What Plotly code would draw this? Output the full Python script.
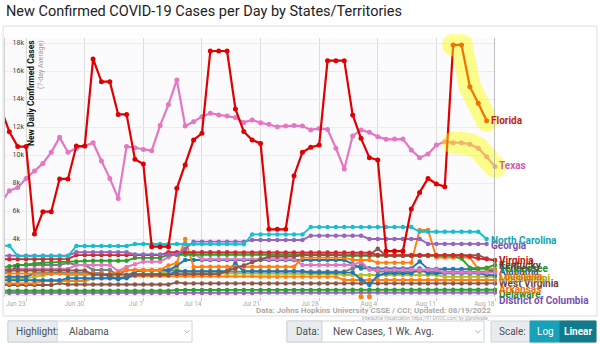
import plotly.graph_objects as go
import pandas as pd

# ---------------- data (values in cases/day, 7-day average) ----------------
dates = pd.date_range("2022-06-20", periods=60, freq="D")
tick_dates = pd.date_range("2022-06-23", "2022-08-18", freq="7D")

florida = [13300, 11660, 10600, 10600, 4360, 5950, 5950, 8290, 8290, 10640,
           10640, 16860, 15240, 15240, 12900, 12900, 9690, 9360, 3450, 3450,
           3450, 7620, 9290, 11070, 11550, 17430, 17430, 17430, 13290, 11670,
           11070, 10830, 4690, 4690, 4690, 8520, 10190, 10550, 10710, 16740,
           16740, 16740, 12860, 11190, 9810, 9640, 3140, 3140, 3140, 6140,
           7330, 8330, 7930, 7740, 17860, 17860, 14880, 13690, 12450]
texas = [6570, 7450, 7670, 8330, 8860, 9400, 10190, 11260, 10190, 10480,
         10640, 10880, 9570, 8330, 6900, 10600, 10520, 10400, 10310, 12100,
         13600, 15360, 12070, 12380, 12740, 12980, 12860, 12790, 12670, 12330,
         12500, 12310, 12190, 12020, 12070, 12100, 12070, 11790, 11900, 11830,
         10480, 9000, 11360, 11790, 11620, 11310, 11120, 11140, 11140, 10360,
         9810, 10070, 10710, 10950, 10880, 10880, 10760, 10480, 9880, 9170]
north_carolina = [3520, 3520, 2780, 2780, 2780, 2780, 2780, 2780, 2780, 3500,
                  3500, 3500, 3500, 3500, 3500, 3500, 3640, 3640, 3640, 3640,
                  3640, 3640, 3640, 3640, 3640, 3640, 3640, 3640, 3640, 3620,
                  4330, 4330, 4330, 4330, 4330, 4330, 4330, 4850, 4850, 4850,
                  4850, 4850, 4850, 4850, 4850, 4850, 4850, 4850, 4850, 4850,
                  4520, 4520, 4520, 4520, 4520, 4520, 4520, 4520, 4000]
georgia = [2810, 2810, 2810, 2810, 2810, 2810, 2810, 2810, 2810, 3050,
           3050, 3050, 3050, 3050, 3050, 3050, 2900, 2900, 2900, 2900,
           2900, 2900, 3300, 3810, 3810, 3810, 3810, 3810, 3810, 3810,
           3930, 3930, 3930, 3930, 3930, 3930, 3930, 4240, 4240, 4240,
           4240, 4240, 4240, 4240, 4000, 4000, 4000, 4000, 4000, 4000,
           4000, 3650, 3650, 3650, 3650, 3650, 3650, 3650, 3650]
virginia = [2550, 2550, 2550, 2560, 2560, 2560, 2580, 2580, 2580, 2850,
            2850, 2850, 2850, 2850, 2850, 2850, 2850, 2850, 2850, 2850,
            3050, 3050, 3050, 3050, 3050, 3050, 3050, 3050, 3040, 3040,
            3040, 3040, 3040, 3040, 3040, 3030, 3030, 3030, 3030, 3030,
            3030, 3030, 3020, 3020, 3020, 2850, 2850, 2850, 2850, 2850,
            2850, 2850, 2850, 2850, 2850, 2850, 2750, 2600, 2550, 2500]
kentucky = [1750, 1750, 1750, 1750, 1750, 1750, 1750, 1750, 1750, 1750,
            1750, 1450, 1450, 1450, 1450, 1450, 1450, 1450, 1450, 1450,
            1450, 1500, 1500, 1500, 1500, 1500, 1500, 1700, 1900, 2100,
            2350, 2550, 2750, 2750, 2750, 2750, 2850, 2850, 2850, 2850,
            2850, 2850, 2850, 2850, 2850, 3300, 2800, 2800, 2800, 2800,
            2800, 2800, 2800, 2800, 2800, 2800, 2800, 2850, 2600, 2450]
tennessee = [1980, 2050, 2120, 2200, 2250, 2300, 2330, 2360, 2380, 2400,
             2450, 2450, 2450, 2450, 2450, 2450, 2650, 2650, 2650, 2650,
             2880, 2880, 2880, 2880, 2880, 2880, 2880, 2880, 2880, 2880,
             2880, 2880, 2880, 2880, 2880, 2880, 2880, 2880, 2880, 2880,
             2880, 2800, 2800, 2800, 2800, 2800, 2800, 2800, 2800, 2800,
             2800, 2800, 2800, 2800, 2800, 2600, 1950, 1900, 1950, 2150]
alabama = [1300, 1300, 1300, 1300, 1550, 1550, 1550, 1550, 1550, 1550,
           1550, 1550, 1550, 1300, 1150, 1300, 1700, 1750, 1750, 1750,
           1750, 2100, 2500, 2500, 2500, 2500, 2500, 2500, 2500, 2500,
           2500, 2500, 2500, 2500, 2500, 2500, 2500, 2500, 2500, 2500,
           2500, 2500, 2200, 1900, 1900, 1900, 1900, 1900, 1900, 1900,
           2400, 1850, 1850, 1850, 1850, 1850, 1850, 1850, 1850, 1650]
oklahoma = [1050, 1050, 1050, 1050, 1050, 1050, 1050, 1050, 1200, 1200,
            1200, 1200, 1200, 1200, 1200, 1200, 1450, 1450, 1450, 1450,
            1450, 1700, 1700, 1700, 1700, 1700, 1700, 1700, 2250, 1700,
            1700, 1700, 1700, 1700, 1700, 1700, 1700, 1600, 1600, 1600,
            1600, 1600, 1600, 1100, 720, 1400, 1550, 1550, 1550, 1550,
            1900, 1550, 1550, 1550, 1550, 1550, 1550, 1550, 1450, 1400]
south_carolina = [1860, 1860, 1860, 1860, 1860, 1860, 1860, 1860, 1860, 2140,
                  2140, 2140, 2140, 2140, 1700, 2000, 2200, 2380, 2380, 2380,
                  2700, 2980, 2980, 2980, 2550, 2550, 2550, 2550, 2550, 2550,
                  2550, 2550, 2550, 2550, 2550, 2550, 2140, 2140, 2140, 2140,
                  2140, 2140, 2140, 2380, 1800, 1800, 1800, 1800, 1800, 1800,
                  1800, 1800, 1800, 1600, 1600, 1600, 1600, 1600, 1600, 1600]
louisiana = [1550, 1550, 1550, 1550, 1550, 1550, 1550, 1550, 1550, 1550,
             1550, 1550, 1550, 1500, 1600, 1790, 1790, 1790, 1790, 1790,
             2100, 2300, 4000, 2000, 2020, 2020, 2020, 2020, 2020, 2020,
             2020, 2020, 2020, 2020, 2020, 2020, 2670, 2670, 2670, 2670,
             2670, 2670, 2500, 2500, 2500, 2310, 2310, 2310, 2310, 2310,
             4640, 4640, 2670, 2670, 2670, 2670, 2670, 1860, 1860, 1860]
arkansas = [830, 830, 830, 830, 830, 1000, 1000, 1000, 1000, 1000,
            1000, 1190, 1190, 1190, 1190, 1350, 1350, 1350, 1350, 1350,
            1350, 1350, 1350, 1350, 1350, 1350, 1350, 1350, 1350, 1350,
            1350, 1310, 1310, 1310, 1310, 1310, 1310, 1310, 1310, 1310,
            1310, 1070, 1070, 1070, 1070, 1070, 1070, 1070, 1070, 1070,
            1070, 1070, 1070, 1070, 1070, 1070, 1070, 1070, 1070, 1070]
mississippi = [1190, 1190, 1190, 1190, 1300, 1400, 1500, 1620, 1400, 1450,
               1450, 1450, 1450, 1450, 1100, 1350, 1500, 1500, 1500, 1500,
               1700, 1900, 1550, 1550, 1550, 1550, 1550, 1550, 1550, 1550,
               1550, 1500, 1500, 1500, 1500, 1500, 1500, 1500, 1500, 1500,
               1500, 1430, 1430, 1430, 1430, 1430, 1430, 1430, 1430, 1430,
               1430, 1430, 1430, 1300, 1300, 1300, 1300, 1300, 1300, 1300]
maryland = [1600, 1600, 2140, 2140, 2140, 2140, 2140, 2140, 2300, 2140,
            2140, 1790, 1790, 1790, 1400, 1790, 1790, 1790, 1790, 1790,
            1790, 1670, 1670, 1670, 1670, 1670, 1670, 1670, 1670, 1670,
            1670, 1670, 1670, 1670, 1670, 1670, 1670, 1670, 1670, 1670,
            1670, 1670, 1900, 2140, 1900, 1670, 1670, 1670, 1670, 1670,
            1670, 1670, 1670, 1670, 1670, 1670, 1670, 1670, 1670, 1670]
west_virginia = [710, 710, 710, 710, 710, 710, 710, 850, 750, 750,
                 750, 750, 750, 750, 750, 750, 750, 750, 750, 750,
                 750, 900, 830, 830, 830, 830, 830, 830, 830, 830,
                 830, 830, 830, 830, 830, 830, 830, 830, 830, 830,
                 830, 830, 830, 830, 830, 830, 830, 830, 830, 830,
                 830, 830, 830, 830, 830, 830, 830, 830, 830, 830]
delaware = [300, 300, 300, 300, 300, 300, 300, 300, 300, 300,
            300, 300, 300, 300, 300, 300, 300, 300, 300, 300,
            300, 360, 360, 360, 360, 360, 360, 360, 360, 360,
            360, 360, 360, 360, 360, 360, 360, 360, 360, 360,
            360, 380, 380, 380, 380, 380, 380, 380, 380, 380,
            380, 380, 380, 380, 380, 380, 380, 380, 380, 380]
dc = [150, 150, 150, 150, 150, 150, 150, 150, 150, 150,
      150, 150, 150, 150, 150, 150, 150, 150, 150, 150,
      150, 150, 150, 150, 150, 150, 150, 150, 150, 150,
      150, 180, 180, 180, 180, 180, 180, 180, 180, 180,
      180, 180, 180, 180, 180, 180, 180, 180, 180, 180,
      180, 180, 180, 180, 180, 180, 180, 180, 180, 180]
# isolated negative reports shown just below the axis
neg_dates = ["2022-07-05", "2022-08-02", "2022-08-03"]
neg_values = [-160, -130, -130]

highlight_start = 54   # last week highlighted for Florida / Texas

# ---------------- styles ----------------
# (name, values, line colour, label colour, label y-shift px, show label)
series = [
    ("District of Columbia", dc, "#9467bd", "#7a4fb0", -8, True),
    ("Delaware", delaware, "#2ca02c", "#238a23", -5, True),
    ("West Virginia", west_virginia, "#8c564b", "#6e4037", 0, True),
    ("Arkansas", arkansas, "#ff7f0e", "#f06c00", -9, True),
    ("Mississippi", mississippi, "#bcbd22", "#a3a410", -2, True),
    ("Maryland", maryland, "#7f7f7f", "#666666", 0, False),
    ("Oklahoma", oklahoma, "#1f77b4", "#1a64a0", 0, False),
    ("Alabama", alabama, "#1f77b4", "#1a64a0", 0, True),
    ("South Carolina", south_carolina, "#e377c2", "#d060b0", 0, False),
    ("Louisiana", louisiana, "#ff7f0e", "#f06c00", -8, True),
    ("Tennessee", tennessee, "#2ca02c", "#238a23", -4, True),
    ("Kentucky", kentucky, "#8c564b", "#5e4036", -5, True),
    ("Virginia", virginia, "#d62728", "#b81414", 0, True),
    ("Georgia", georgia, "#9467bd", "#7a4fb0", -2, True),
    ("North Carolina", north_carolina, "#17becf", "#13a3b3", -1, True),
    ("Texas", texas, "#e377c2", "#d35aae", 1, True),
    ("Florida", florida, "#e00000", "#c8200c", 0, True),
]

FONT = "Roboto, 'Open Sans', sans-serif"
L, R, T, B = 5, 495, 38, 297
W, H = R - L, B - T


def px2x(px):
    return (px - L) / W


def py2y(py):
    return (B - py) / H


fig = go.Figure()

for name, vals, col, lcol, ysh, show in series:
    big = name in ("Texas", "Florida")
    fig.add_trace(go.Scatter(
        x=dates[:len(vals)], y=vals, mode="lines+markers", name=name,
        line=dict(color=col, width=2.2 if big else 1.9),
        marker=dict(color=col, size=5 if big else 4.5),
        cliponaxis=False, hoverinfo="skip", showlegend=False))

# negative reports
fig.add_trace(go.Scatter(x=neg_dates, y=neg_values, mode="markers",
                         marker=dict(color="#ff7f0e", size=5), cliponaxis=False,
                         hoverinfo="skip", showlegend=False))

# yellow highlights on the final week
for vals in (florida, texas):
    fig.add_trace(go.Scatter(
        x=dates[highlight_start:len(vals)], y=vals[highlight_start:],
        mode="lines+markers", line=dict(color="#ffff00", width=22),
        marker=dict(color="#ffff00", size=22), opacity=0.45,
        cliponaxis=False, hoverinfo="skip", showlegend=False))

annotations = []
for name, vals, col, lcol, ysh, show in series:
    if not show:
        continue
    annotations.append(dict(
        x=dates[len(vals) - 1], y=vals[-1], xref="x", yref="y",
        text="<b>%s</b>" % name, showarrow=False, xanchor="left", yanchor="middle",
        xshift=2, yshift=ysh, font=dict(family=FONT, size=10, color=lcol)))

# title
annotations.append(dict(x=px2x(4), y=py2y(12), xref="paper", yref="paper",
                        text="New Confirmed COVID-19 Cases per Day by States/Territories",
                        showarrow=False, xanchor="left", yanchor="middle",
                        font=dict(family=FONT, size=14.5, color="#222")))
# y axis title (inside plot)
annotations.append(dict(x=px2x(31), y=py2y(38), xref="paper", yref="paper",
                        text="<b>New Daily Confirmed Cases</b>", textangle=-90,
                        showarrow=False, xanchor="center", yanchor="top",
                        font=dict(family=FONT, size=8.5, color="#111")))
annotations.append(dict(x=px2x(40.5), y=py2y(38), xref="paper", yref="paper",
                        text="(7-day Average)", textangle=-90,
                        showarrow=False, xanchor="center", yanchor="top",
                        font=dict(family=FONT, size=7, color="#999")))
# credits
annotations.append(dict(x=px2x(493), y=py2y(310), xref="paper", yref="paper",
                        text="<b>Data: Johns Hopkins University CSSE / CCI; Updated: 08/19/2022</b>",
                        showarrow=False, xanchor="right", yanchor="middle",
                        font=dict(family=FONT, size=8, color="#aaa")))
annotations.append(dict(x=px2x(493), y=py2y(317.5), xref="paper", yref="paper",
                        text="Interactive Visualization: https://91-DIVOC.com/ by @profwade_",
                        showarrow=False, xanchor="right", yanchor="middle",
                        font=dict(family=FONT, size=4.5, color="#aaa")))

shapes = []
# outer frame
shapes.append(dict(type="rect", xref="paper", yref="paper",
                   x0=px2x(3), x1=px2x(597), y0=py2y(316), y1=py2y(26),
                   line=dict(color="#dedede", width=1), layer="below"))
# current-date line
shapes.append(dict(type="line", xref="x", yref="paper", x0=dates[-1], x1=dates[-1],
                   y0=0, y1=1, line=dict(color="#aaaaaa", width=1.5)))

# ---------------- controls row ----------------
cy0, cy1 = 321, 342


def box(x0, x1, fill, line="#ced4da"):
    shapes.append(dict(type="rect", xref="paper", yref="paper",
                       x0=px2x(x0), x1=px2x(x1), y0=py2y(cy1), y1=py2y(cy0),
                       fillcolor=fill, line=dict(color=line, width=1)))


def label(px, text, color="#495057", anchor="left", size=10, bold=False):
    annotations.append(dict(x=px2x(px), y=py2y((cy0 + cy1) / 2), xref="paper", yref="paper",
                            text=("<b>%s</b>" % text) if bold else text, showarrow=False,
                            xanchor=anchor, yanchor="middle",
                            font=dict(family=FONT, size=size, color=color)))


def chevron(px):
    cyc = (cy0 + cy1) / 2
    shapes.append(dict(type="path", xref="paper", yref="paper",
                       path="M %f %f L %f %f L %f %f" % (
                           px2x(px - 2.5), py2y(cyc - 1.2), px2x(px), py2y(cyc + 1.3),
                           px2x(px + 2.5), py2y(cyc - 1.2)),
                       line=dict(color="#999", width=0.8)))


box(8, 192, "#ffffff")
box(8, 57, "#e9ecef")
label(14, "Highlight:")
label(67, "Alabama")
chevron(187)

box(287, 484, "#ffffff")
box(287, 322, "#e9ecef")
label(294, "Data:")
label(331, "New Cases, 1 Wk. Avg.")
chevron(478)

box(491, 596, "#e9ecef")
box(530, 560, "#17a2b8", line="#17a2b8")
box(560, 596, "#117a8b", line="#117a8b")
label(497, "Scale:")
label(545, "Log", color="#ffffff", anchor="center")
label(578, "Linear", color="#ffffff", anchor="center", bold=True)

fig.update_layout(
    width=600, height=344,
    margin=dict(l=L, r=600 - R, t=T, b=344 - B, pad=0),
    paper_bgcolor="#ffffff", plot_bgcolor="#fbfbfe",
    showlegend=False,
    annotations=annotations, shapes=shapes,
    xaxis=dict(range=["2022-06-20 11:30", "2022-08-18 00:00"], tickvals=tick_dates,
               tickformat="%b %-d", ticklabelposition="outside left",
               ticks="outside", ticklen=3, tickcolor="#c8c8c8",
               tickfont=dict(family=FONT, size=6.5, color="#aaa"),
               showgrid=True, gridcolor="#dcdcdc", gridwidth=1,
               zeroline=False, showline=False, fixedrange=True),
    yaxis=dict(range=[-143, 18357], tickvals=list(range(0, 18001, 2000)),
               tickformat="~s", ticklabelposition="inside", ticks="",
               ticklabelstandoff=6,
               tickfont=dict(family=FONT, size=7, color="#444"),
               showgrid=True, gridcolor="#ececf0", gridwidth=1,
               zeroline=False, showline=True, linecolor="#cfcfcf", linewidth=1,
               fixedrange=True),
)

fig.write_html("out.html")
